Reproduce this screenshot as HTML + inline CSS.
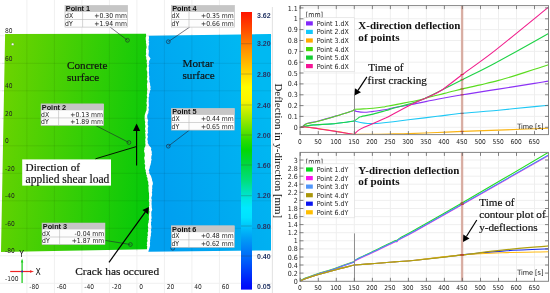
<!DOCTYPE html>
<html><head><meta charset="utf-8"><title>Deflection plots</title>
<style>html,body{margin:0;padding:0;background:#fff;}svg{display:block;filter:blur(0.4px)}</style>
</head><body>
<svg width="550" height="293" viewBox="0 0 550 293">
<g stroke="#f0f0f0" stroke-width="1">
<line x1="26.9" y1="0" x2="26.9" y2="293"/>
<line x1="54.4" y1="0" x2="54.4" y2="293"/>
<line x1="81.9" y1="0" x2="81.9" y2="293"/>
<line x1="109.4" y1="0" x2="109.4" y2="293"/>
<line x1="136.9" y1="0" x2="136.9" y2="293"/>
<line x1="164.4" y1="0" x2="164.4" y2="293"/>
<line x1="191.9" y1="0" x2="191.9" y2="293"/>
<line x1="219.4" y1="0" x2="219.4" y2="293"/>
<line x1="0" y1="35.8" x2="272" y2="35.8"/>
<line x1="0" y1="63.3" x2="272" y2="63.3"/>
<line x1="0" y1="90.8" x2="272" y2="90.8"/>
<line x1="0" y1="118.3" x2="272" y2="118.3"/>
<line x1="0" y1="145.8" x2="272" y2="145.8"/>
<line x1="0" y1="173.3" x2="272" y2="173.3"/>
<line x1="0" y1="200.8" x2="272" y2="200.8"/>
<line x1="0" y1="228.3" x2="272" y2="228.3"/>
<line x1="0" y1="255.8" x2="272" y2="255.8"/>
<line x1="0" y1="283.3" x2="272" y2="283.3"/>
</g>
<line x1="272.4" y1="7" x2="272.4" y2="293" stroke="#dedede" stroke-width="0.9"/>
<defs>
<linearGradient id="gg" gradientUnits="userSpaceOnUse" x1="0" y1="34" x2="173.9" y2="61.1"><stop offset="0" stop-color="#72d400"/><stop offset="1" stop-color="#02c90a"/></linearGradient>
<linearGradient id="bg" gradientUnits="userSpaceOnUse" x1="149" y1="150" x2="271" y2="109.3"><stop offset="0" stop-color="#00a0f0"/><stop offset="1" stop-color="#00b9f2"/></linearGradient>
<linearGradient id="cb" x1="0" y1="0" x2="0" y2="1"><stop offset="0.0000" stop-color="#ff1400"/><stop offset="0.0162" stop-color="#ff2300"/><stop offset="0.0630" stop-color="#ff4b00"/><stop offset="0.1387" stop-color="#ff9400"/><stop offset="0.2432" stop-color="#ffe800"/><stop offset="0.2702" stop-color="#fffc00"/><stop offset="0.3188" stop-color="#faf500"/><stop offset="0.3909" stop-color="#96e800"/><stop offset="0.4629" stop-color="#28dc00"/><stop offset="0.4971" stop-color="#04d704"/><stop offset="0.5349" stop-color="#00d730"/><stop offset="0.6070" stop-color="#00de7d"/><stop offset="0.6790" stop-color="#00e6e8"/><stop offset="0.7061" stop-color="#00e8ff"/><stop offset="0.7403" stop-color="#00e2ff"/><stop offset="0.8123" stop-color="#00a0f5"/><stop offset="0.8952" stop-color="#005ffa"/><stop offset="0.9780" stop-color="#0014fa"/><stop offset="1.0000" stop-color="#0006fa"/></linearGradient>
</defs>
<polygon fill="url(#gg)" points="5.1,34.0 146.0,33.7 146.1,35.0 146.1,36.3 145.7,37.6 145.7,38.9 145.8,40.2 146.1,41.5 145.9,42.8 146.3,44.1 146.3,45.4 146.6,46.7 146.5,48.0 146.0,49.3 146.1,50.6 145.9,51.9 146.2,53.2 146.1,54.5 145.6,55.8 146.3,57.1 146.2,58.4 146.5,59.7 147.0,61.0 146.6,62.3 146.8,63.6 147.0,64.9 147.2,66.2 146.8,67.5 146.6,68.8 146.6,70.1 147.2,71.4 147.3,72.7 147.2,74.0 147.1,75.3 147.4,76.6 147.1,77.9 146.8,79.2 147.3,80.5 147.5,81.8 147.2,83.1 146.9,84.4 147.1,85.7 147.0,87.0 147.2,88.3 147.4,89.6 147.0,90.9 147.1,92.2 147.2,93.5 146.8,94.8 146.8,96.1 147.3,97.4 146.7,98.7 146.7,100.0 146.9,101.3 146.4,102.6 146.6,103.9 147.0,105.2 146.6,106.5 146.6,107.8 146.6,109.1 146.4,110.4 145.8,111.7 145.4,113.0 145.0,114.3 144.7,115.6 144.7,116.9 144.6,118.2 144.8,119.5 144.8,120.8 145.3,122.1 145.0,123.4 145.1,124.7 145.5,126.0 145.3,127.3 145.0,128.6 145.2,129.9 145.6,131.2 145.0,132.5 145.4,133.8 145.4,135.1 145.4,136.4 145.7,137.7 145.2,139.0 145.2,140.3 145.4,141.6 145.2,142.9 145.5,144.2 145.4,145.5 145.1,146.8 144.3,148.1 144.4,149.4 144.0,150.7 144.2,152.0 144.7,153.3 144.7,154.6 144.8,155.9 144.2,157.2 144.2,158.5 144.5,159.8 144.8,161.1 144.8,162.4 144.4,163.7 145.2,165.0 145.2,166.3 144.9,167.6 145.1,168.9 145.8,170.2 145.6,171.5 146.1,172.8 146.0,174.1 146.9,175.4 146.6,176.7 147.6,178.0 147.4,179.3 147.6,180.6 148.4,181.9 148.2,183.2 148.3,184.5 148.8,185.8 148.4,187.1 148.5,188.4 148.6,189.7 148.6,191.0 148.8,192.3 149.1,193.6 149.0,194.9 149.1,196.2 149.1,197.5 149.1,198.8 148.8,200.1 148.9,201.4 149.4,202.7 149.1,204.0 149.4,205.3 149.0,206.6 148.9,207.9 149.2,209.2 149.1,210.5 149.5,211.8 149.2,213.1 149.0,214.4 148.9,215.7 148.8,217.0 148.9,218.3 149.0,219.6 148.6,220.9 148.7,222.2 148.1,223.5 147.9,224.8 147.9,226.1 148.3,227.4 147.8,228.7 148.1,230.0 148.2,231.3 147.6,232.6 147.6,233.9 148.0,235.2 147.3,236.5 147.5,237.8 147.1,239.1 147.5,240.4 147.3,241.7 146.7,243.0 147.2,244.3 146.6,245.6 147.2,246.0 147.0,249.3 1.0,252.0"/>
<polygon fill="url(#bg)" points="271.0,34.0 271.0,250.4 148.3,251.8 150.0,246.0 150.1,245.6 149.9,244.3 149.9,243.0 150.2,241.7 150.0,240.4 150.3,239.1 150.4,237.8 150.6,236.5 151.0,235.2 150.8,233.9 151.2,232.6 151.3,231.3 150.8,230.0 151.3,228.7 151.4,227.4 151.3,226.1 151.0,224.8 151.1,223.5 150.9,222.2 151.6,220.9 151.1,219.6 151.6,218.3 151.6,217.0 151.3,215.7 151.4,214.4 151.3,213.1 151.3,211.8 152.0,210.5 152.2,209.2 151.8,207.9 151.7,206.6 151.7,205.3 151.5,204.0 151.6,202.7 151.6,201.4 151.9,200.1 151.4,198.8 151.3,197.5 151.8,196.2 152.1,194.9 152.1,193.6 151.8,192.3 152.3,191.0 152.0,189.7 152.3,188.4 152.2,187.1 152.2,185.8 152.8,184.5 152.9,183.2 152.7,181.9 152.1,180.6 152.0,179.3 151.6,178.0 151.2,176.7 150.7,175.4 149.7,174.1 149.2,172.8 149.3,171.5 148.7,170.2 149.4,168.9 149.8,167.6 149.9,166.3 150.5,165.0 150.7,163.7 151.1,162.4 151.1,161.1 151.7,159.8 151.2,158.5 151.3,157.2 151.4,155.9 152.0,154.6 151.6,153.3 151.9,152.0 151.4,150.7 151.0,149.4 151.3,148.1 150.2,146.8 149.0,145.5 148.5,144.2 147.7,142.9 147.9,141.6 147.6,140.3 147.3,139.0 147.7,137.7 148.0,136.4 147.3,135.1 147.5,133.8 148.2,132.5 147.7,131.2 147.9,129.9 147.7,128.6 148.0,127.3 148.4,126.0 147.6,124.7 147.8,123.4 147.6,122.1 148.2,120.8 147.7,119.5 147.4,118.2 147.2,116.9 147.3,115.6 147.6,114.3 148.4,113.0 148.3,111.7 148.7,110.4 148.8,109.1 148.3,107.8 148.8,106.5 148.9,105.2 148.8,103.9 148.7,102.6 148.6,101.3 148.8,100.0 148.7,98.7 148.6,97.4 149.3,96.1 148.9,94.8 149.3,93.5 149.7,92.2 149.9,90.9 150.7,89.6 150.2,88.3 150.7,87.0 150.2,85.7 150.1,84.4 150.0,83.1 149.3,81.8 149.6,80.5 149.2,79.2 149.2,77.9 149.4,76.6 149.0,75.3 149.1,74.0 148.8,72.7 149.0,71.4 149.1,70.1 148.9,68.8 149.2,67.5 148.6,66.2 148.8,64.9 149.3,63.6 149.0,62.3 149.1,61.0 149.8,59.7 150.5,58.4 149.5,57.1 148.6,55.8 148.5,54.5 148.7,53.2 148.8,51.9 148.9,50.6 148.4,49.3 148.5,48.0 148.4,46.7 148.7,45.4 149.2,44.1 148.6,42.8 149.2,41.5 148.6,40.2 148.9,38.9 149.0,37.6 148.8,36.3 148.6,35.0 148.7,35.8"/>
<g stroke="#000" stroke-opacity="0.075" stroke-width="1">
<line x1="26.9" y1="34" x2="26.9" y2="251"/>
<line x1="54.4" y1="34" x2="54.4" y2="251"/>
<line x1="81.9" y1="34" x2="81.9" y2="251"/>
<line x1="109.4" y1="34" x2="109.4" y2="251"/>
<line x1="136.9" y1="34" x2="136.9" y2="251"/>
<line x1="164.4" y1="34" x2="164.4" y2="251"/>
<line x1="191.9" y1="34" x2="191.9" y2="251"/>
<line x1="219.4" y1="34" x2="219.4" y2="251"/>
<line x1="2" y1="63.3" x2="271" y2="63.3"/>
<line x1="2" y1="90.8" x2="271" y2="90.8"/>
<line x1="2" y1="118.3" x2="271" y2="118.3"/>
<line x1="2" y1="145.8" x2="271" y2="145.8"/>
<line x1="2" y1="173.3" x2="271" y2="173.3"/>
<line x1="2" y1="200.8" x2="271" y2="200.8"/>
<line x1="2" y1="228.3" x2="271" y2="228.3"/>
</g>
<circle cx="12.7" cy="44.2" r="1.3" fill="#fff" stroke="#5a9a30" stroke-width="0.5"/>
<g font-family="DejaVu Sans Condensed, Liberation Sans, sans-serif" font-size="6.6" fill="#222">
<text x="5" y="33.0">80</text>
<text x="5" y="60.5">60</text>
<text x="5" y="88.0">40</text>
<text x="5" y="115.5">20</text>
<text x="5" y="143.0">0</text>
<text x="5" y="170.5">-20</text>
<text x="5" y="198.0">-40</text>
<text x="5" y="225.5">-60</text>
<text x="5" y="253.0">-80</text>
<text x="5" y="280.5">-100</text>
<text x="29.3" y="289.2">-80</text>
<text x="56.8" y="289.2">-60</text>
<text x="84.3" y="289.2">-40</text>
<text x="111.8" y="289.2">-20</text>
<text x="139.3" y="289.2">0</text>
<text x="166.8" y="289.2">20</text>
<text x="194.3" y="289.2">40</text>
<text x="221.8" y="289.2">60</text>
</g>
<line x1="22.1" y1="260.5" x2="22.1" y2="283" stroke="#22cc22" stroke-width="1.3"/>
<polygon points="22.1,258.5 20.9,262.5 23.3,262.5" fill="#22cc22"/>
<line x1="10.2" y1="271.5" x2="31" y2="271.5" stroke="#ee2222" stroke-width="1.2"/>
<polygon points="34,271.5 30,270.3 30,272.7" fill="#ee2222"/>
<circle cx="22.1" cy="271.5" r="0.9" fill="#2222cc"/>
<text x="19.2" y="256.8" font-family="DejaVu Sans Condensed, Liberation Sans, sans-serif" font-size="8.5" fill="#111">Y</text>
<text x="35.5" y="274.6" font-family="DejaVu Sans Condensed, Liberation Sans, sans-serif" font-size="8.5" fill="#111">X</text>
<rect x="241" y="12" width="11" height="277.6" fill="url(#cb)"/>
<g font-family="Liberation Sans, sans-serif" font-size="7" font-weight="bold" fill="#263766">
<text x="257" y="17.9">3.62</text>
<text x="257" y="46.2">3.20</text>
<text x="257" y="76.5">2.80</text>
<text x="257" y="107.5">2.40</text>
<text x="257" y="137.5">2.00</text>
<text x="257" y="167.5">1.60</text>
<text x="257" y="198.2">1.20</text>
<text x="257" y="228.5">0.80</text>
<text x="257" y="258.5">0.40</text>
<text x="257" y="289.0">0.05</text>
</g>
<g stroke="#333" stroke-opacity="0.45" stroke-width="0.6">
<line x1="241" y1="43.7" x2="251.8" y2="43.7"/>
<line x1="241" y1="74.0" x2="251.8" y2="74.0"/>
<line x1="241" y1="105.0" x2="251.8" y2="105.0"/>
<line x1="241" y1="135.0" x2="251.8" y2="135.0"/>
<line x1="241" y1="165.0" x2="251.8" y2="165.0"/>
<line x1="241" y1="195.7" x2="251.8" y2="195.7"/>
<line x1="241" y1="226.0" x2="251.8" y2="226.0"/>
<line x1="241" y1="256.0" x2="251.8" y2="256.0"/>
</g>
<text transform="translate(274.6,83.5) rotate(90)" font-family="Liberation Serif, serif" font-size="10.9" fill="#111">Deflection in y-direction [mm]</text>
<line x1="110" y1="27" x2="127.5" y2="40.3" stroke="#223" stroke-width="0.6"/>
<circle cx="127.5" cy="40.3" r="1.9" fill="none" stroke="#223" stroke-width="0.6"/>
<line x1="189.8" y1="27" x2="168.3" y2="41.7" stroke="#223" stroke-width="0.6"/>
<circle cx="168.3" cy="41.7" r="1.9" fill="none" stroke="#223" stroke-width="0.6"/>
<line x1="96.2" y1="125.8" x2="128.9" y2="142.5" stroke="#223" stroke-width="0.6"/>
<circle cx="128.9" cy="142.5" r="1.9" fill="none" stroke="#223" stroke-width="0.6"/>
<line x1="189.8" y1="129.8" x2="168.3" y2="146.2" stroke="#223" stroke-width="0.6"/>
<circle cx="168.3" cy="146.2" r="1.9" fill="none" stroke="#223" stroke-width="0.6"/>
<line x1="105" y1="240.4" x2="130.4" y2="244.5" stroke="#223" stroke-width="0.6"/>
<circle cx="130.4" cy="244.5" r="1.9" fill="none" stroke="#223" stroke-width="0.6"/>
<line x1="172.8" y1="247" x2="172.8" y2="248.2" stroke="#223" stroke-width="0.6"/>
<circle cx="172.8" cy="248.2" r="1.9" fill="none" stroke="#223" stroke-width="0.6"/>
<g font-family="DejaVu Sans Condensed, Liberation Sans, sans-serif">
<rect x="65" y="5.5" width="62.6" height="21.6" fill="#fdfdfd" stroke="#b8b8b8" stroke-width="0.6"/>
<rect x="65" y="5.5" width="62.6" height="6.4" fill="#c6c6c6"/>
<line x1="65" y1="19.5" x2="127.6" y2="19.5" stroke="#b8b8b8" stroke-width="0.6"/>
<line x1="82.6" y1="11.9" x2="82.6" y2="27.1" stroke="#b8b8b8" stroke-width="0.6"/>
<text x="65.8" y="11.3" font-size="7.3" font-weight="bold" font-family="Liberation Sans, sans-serif" fill="#111">Point 1</text>
<text x="65.1" y="18.1" font-size="6.8" fill="#222">dX</text>
<text x="65.1" y="25.7" font-size="6.8" fill="#222">dY</text>
<text x="126.89999999999999" y="18.1" font-size="6.8" fill="#222" text-anchor="end">+0.30 mm</text>
<text x="126.89999999999999" y="25.7" font-size="6.8" fill="#222" text-anchor="end">+1.94 mm</text>
</g>
<g font-family="DejaVu Sans Condensed, Liberation Sans, sans-serif">
<rect x="171.4" y="5.5" width="63" height="21.6" fill="#fdfdfd" stroke="#b8b8b8" stroke-width="0.6"/>
<rect x="171.4" y="5.5" width="63" height="6.4" fill="#c6c6c6"/>
<line x1="171.4" y1="19.5" x2="234.4" y2="19.5" stroke="#b8b8b8" stroke-width="0.6"/>
<line x1="189.0" y1="11.9" x2="189.0" y2="27.1" stroke="#b8b8b8" stroke-width="0.6"/>
<text x="172.20000000000002" y="11.3" font-size="7.3" font-weight="bold" font-family="Liberation Sans, sans-serif" fill="#111">Point 4</text>
<text x="171.5" y="18.1" font-size="6.8" fill="#222">dX</text>
<text x="171.5" y="25.7" font-size="6.8" fill="#222">dY</text>
<text x="233.70000000000002" y="18.1" font-size="6.8" fill="#222" text-anchor="end">+0.35 mm</text>
<text x="233.70000000000002" y="25.7" font-size="6.8" fill="#222" text-anchor="end">+0.66 mm</text>
</g>
<g font-family="DejaVu Sans Condensed, Liberation Sans, sans-serif">
<rect x="41" y="103.9" width="62.6" height="21.6" fill="#fdfdfd" stroke="#b8b8b8" stroke-width="0.6"/>
<rect x="41" y="103.9" width="62.6" height="6.4" fill="#c6c6c6"/>
<line x1="41" y1="117.9" x2="103.6" y2="117.9" stroke="#b8b8b8" stroke-width="0.6"/>
<line x1="58.6" y1="110.30000000000001" x2="58.6" y2="125.5" stroke="#b8b8b8" stroke-width="0.6"/>
<text x="41.8" y="109.7" font-size="7.3" font-weight="bold" font-family="Liberation Sans, sans-serif" fill="#111">Point 2</text>
<text x="41.1" y="116.5" font-size="6.8" fill="#222">dX</text>
<text x="41.1" y="124.10000000000001" font-size="6.8" fill="#222">dY</text>
<text x="102.89999999999999" y="116.5" font-size="6.8" fill="#222" text-anchor="end">+0.13 mm</text>
<text x="102.89999999999999" y="124.10000000000001" font-size="6.8" fill="#222" text-anchor="end">+1.89 mm</text>
</g>
<g font-family="DejaVu Sans Condensed, Liberation Sans, sans-serif">
<rect x="171.4" y="108.5" width="63" height="21.6" fill="#fdfdfd" stroke="#b8b8b8" stroke-width="0.6"/>
<rect x="171.4" y="108.5" width="63" height="6.4" fill="#c6c6c6"/>
<line x1="171.4" y1="122.5" x2="234.4" y2="122.5" stroke="#b8b8b8" stroke-width="0.6"/>
<line x1="189.0" y1="114.9" x2="189.0" y2="130.1" stroke="#b8b8b8" stroke-width="0.6"/>
<text x="172.20000000000002" y="114.3" font-size="7.3" font-weight="bold" font-family="Liberation Sans, sans-serif" fill="#111">Point 5</text>
<text x="171.5" y="121.1" font-size="6.8" fill="#222">dX</text>
<text x="171.5" y="128.7" font-size="6.8" fill="#222">dY</text>
<text x="233.70000000000002" y="121.1" font-size="6.8" fill="#222" text-anchor="end">+0.44 mm</text>
<text x="233.70000000000002" y="128.7" font-size="6.8" fill="#222" text-anchor="end">+0.65 mm</text>
</g>
<g font-family="DejaVu Sans Condensed, Liberation Sans, sans-serif">
<rect x="42" y="223" width="63" height="21.6" fill="#fdfdfd" stroke="#b8b8b8" stroke-width="0.6"/>
<rect x="42" y="223" width="63" height="6.4" fill="#c6c6c6"/>
<line x1="42" y1="237" x2="105" y2="237" stroke="#b8b8b8" stroke-width="0.6"/>
<line x1="59.6" y1="229.4" x2="59.6" y2="244.6" stroke="#b8b8b8" stroke-width="0.6"/>
<text x="42.8" y="228.8" font-size="7.3" font-weight="bold" font-family="Liberation Sans, sans-serif" fill="#111">Point 3</text>
<text x="42.1" y="235.6" font-size="6.8" fill="#222">dX</text>
<text x="42.1" y="243.2" font-size="6.8" fill="#222">dY</text>
<text x="104.3" y="235.6" font-size="6.8" fill="#222" text-anchor="end">-0.04 mm</text>
<text x="104.3" y="243.2" font-size="6.8" fill="#222" text-anchor="end">+1.87 mm</text>
</g>
<g font-family="DejaVu Sans Condensed, Liberation Sans, sans-serif">
<rect x="171.3" y="225.8" width="63" height="21.6" fill="#fdfdfd" stroke="#b8b8b8" stroke-width="0.6"/>
<rect x="171.3" y="225.8" width="63" height="6.4" fill="#c6c6c6"/>
<line x1="171.3" y1="239.8" x2="234.3" y2="239.8" stroke="#b8b8b8" stroke-width="0.6"/>
<line x1="188.9" y1="232.20000000000002" x2="188.9" y2="247.4" stroke="#b8b8b8" stroke-width="0.6"/>
<text x="172.10000000000002" y="231.60000000000002" font-size="7.3" font-weight="bold" font-family="Liberation Sans, sans-serif" fill="#111">Point 6</text>
<text x="171.4" y="238.4" font-size="6.8" fill="#222">dX</text>
<text x="171.4" y="246.0" font-size="6.8" fill="#222">dY</text>
<text x="233.60000000000002" y="238.4" font-size="6.8" fill="#222" text-anchor="end">+0.48 mm</text>
<text x="233.60000000000002" y="246.0" font-size="6.8" fill="#222" text-anchor="end">+0.62 mm</text>
</g>
<g font-family="Liberation Serif, serif" font-size="11.2" fill="#111" stroke="#111" stroke-width="0.18">
<text x="67" y="68.8">Concrete</text>
<text x="67" y="80.7">surface</text>
<text x="182.5" y="66.6">Mortar</text>
<text x="182.5" y="78.9">surface</text>
</g>
<rect x="22.2" y="159.4" width="88.8" height="26.2" fill="#fff"/>
<g font-family="Liberation Serif, serif" font-size="11.2" fill="#111" stroke="#111" stroke-width="0.18">
<text x="25.6" y="171">Direction of</text>
<text x="25.6" y="182.6" font-size="11.5">applied shear load</text>
<text x="75.3" y="274.7" font-size="11.35">Crack has occured</text>
</g>
<line x1="136.6" y1="130" x2="136.6" y2="165.6" stroke="#000" stroke-width="1.1"/>
<polygon points="136.6,123.6 133,131 140.2,131" fill="#000"/>
<line x1="95.5" y1="158.8" x2="136.6" y2="146.5" stroke="#000" stroke-width="0.9"/>
<line x1="109.0" y1="262.3" x2="145.2" y2="212.1" stroke="#000" stroke-width="1.2"/>
<polygon points="148.9,207.0 148.1,214.2 142.4,210.1" fill="#000"/>
<rect x="300.0" y="5.6" width="248.5" height="129.0" fill="#fff"/>
<g stroke="#ededed" stroke-width="0.9">
<line x1="318.3" y1="5.6" x2="318.3" y2="134.6"/>
<line x1="336.3" y1="5.6" x2="336.3" y2="134.6"/>
<line x1="354.3" y1="5.6" x2="354.3" y2="134.6"/>
<line x1="372.4" y1="5.6" x2="372.4" y2="134.6"/>
<line x1="390.4" y1="5.6" x2="390.4" y2="134.6"/>
<line x1="408.4" y1="5.6" x2="408.4" y2="134.6"/>
<line x1="426.4" y1="5.6" x2="426.4" y2="134.6"/>
<line x1="444.4" y1="5.6" x2="444.4" y2="134.6"/>
<line x1="462.4" y1="5.6" x2="462.4" y2="134.6"/>
<line x1="480.5" y1="5.6" x2="480.5" y2="134.6"/>
<line x1="498.5" y1="5.6" x2="498.5" y2="134.6"/>
<line x1="516.5" y1="5.6" x2="516.5" y2="134.6"/>
<line x1="534.5" y1="5.6" x2="534.5" y2="134.6"/>
<line x1="300.0" y1="127.3" x2="548.5" y2="127.3"/>
<line x1="300.0" y1="116.4" x2="548.5" y2="116.4"/>
<line x1="300.0" y1="105.6" x2="548.5" y2="105.6"/>
<line x1="300.0" y1="94.8" x2="548.5" y2="94.8"/>
<line x1="300.0" y1="83.9" x2="548.5" y2="83.9"/>
<line x1="300.0" y1="73.0" x2="548.5" y2="73.0"/>
<line x1="300.0" y1="62.2" x2="548.5" y2="62.2"/>
<line x1="300.0" y1="51.4" x2="548.5" y2="51.4"/>
<line x1="300.0" y1="40.5" x2="548.5" y2="40.5"/>
<line x1="300.0" y1="29.6" x2="548.5" y2="29.6"/>
<line x1="300.0" y1="18.8" x2="548.5" y2="18.8"/>
<line x1="300.0" y1="7.9" x2="548.5" y2="7.9"/>
</g>
<clipPath id="cp5"><rect x="300.0" y="5.1" width="250.0" height="130.0"/></clipPath>
<g fill="none" stroke-width="1.1" stroke-linejoin="round" clip-path="url(#cp5)">
<line x1="462.1" y1="5.6" x2="462.1" y2="134.6" stroke="#dfb9b0" stroke-width="2.4" clip-path="none"/>
<line x1="462.1" y1="5.6" x2="462.1" y2="134.6" stroke="#d2a398" stroke-width="1.0" clip-path="none"/>
<path stroke="#8c32f5" d="M300.3,127.3C300.8,127.1 302.1,126.6 303.2,126.0C304.2,125.4 304.4,124.3 306.8,123.5C309.2,122.7 313.6,122.2 318.3,121.0C323.0,119.8 330.6,117.6 336.3,115.9C342.1,114.2 351.5,111.1 354.3,110.2C354.7,110.3 355.0,111.0 356.5,111.4C358.1,111.7 361.4,112.3 364.1,112.3C366.7,112.3 369.6,111.8 373.1,111.4C376.6,110.9 382.8,110.1 386.1,109.5C389.3,108.9 389.2,108.6 393.3,107.8C397.3,107.0 404.2,105.9 411.3,104.5C418.3,103.2 429.0,100.9 437.2,99.3C445.4,97.7 452.6,96.4 462.4,94.8C472.2,93.1 486.9,90.9 498.5,89.1C510.0,87.3 526.5,84.6 534.5,83.4C542.5,82.1 546.3,81.4 548.5,81.1"/>
<path stroke="#1ec8f5" d="M300.3,127.3C302.4,126.9 308.3,125.5 313.3,125.0C318.2,124.5 326.0,124.5 331.3,124.0C336.5,123.6 342.4,122.8 346.1,122.3C349.7,121.8 353.0,121.2 354.3,121.0C355.3,121.3 358.3,122.1 360.5,122.5C362.6,122.9 365.1,123.3 367.7,123.5C370.3,123.7 373.7,123.7 376.7,123.5C379.6,123.3 383.4,122.8 386.1,122.5C388.7,122.2 389.7,122.1 393.3,121.7C396.8,121.2 401.4,120.6 408.4,119.7C415.4,118.9 428.6,117.4 437.2,116.3C445.9,115.3 452.6,114.3 462.4,113.3C472.2,112.3 486.9,111.2 498.5,110.2C510.0,109.1 526.5,107.4 534.5,106.6C542.5,105.8 546.3,105.4 548.5,105.2"/>
<path stroke="#fab414" d="M300.3,127.3C301.2,127.2 302.8,126.7 305.7,126.9C308.6,127.1 313.4,127.9 318.3,128.6C323.2,129.3 331.3,130.6 336.3,131.4C341.3,132.2 346.8,133.2 349.7,133.7C352.5,134.2 353.6,134.2 354.3,134.4C357.2,134.3 366.1,134.3 372.4,134.2C378.6,134.2 387.5,134.0 393.3,133.9C399.0,133.8 401.4,133.8 408.4,133.6C415.4,133.4 428.6,132.9 437.2,132.5C445.9,132.2 452.6,131.8 462.4,131.4C472.2,131.0 484.7,130.6 498.5,130.1C512.2,129.6 540.5,128.6 548.5,128.3"/>
<path stroke="#5adc1e" d="M300.3,127.3C300.8,127.1 302.1,126.8 303.2,126.2C304.2,125.6 304.4,124.5 306.8,123.7C309.2,122.9 313.6,122.5 318.3,121.2C323.0,120.0 330.6,117.8 336.3,116.0C342.1,114.3 351.5,111.2 354.3,110.3C354.5,110.1 352.4,109.6 355.4,109.3C358.4,109.0 368.4,108.7 373.1,108.3C377.8,107.9 381.7,107.2 385.0,106.7C388.2,106.2 387.8,106.1 393.3,105.1C398.7,104.0 413.6,101.2 419.2,100.0C424.8,98.7 424.2,98.5 428.2,97.5C432.2,96.4 438.9,94.8 444.4,93.4C449.9,92.1 456.7,90.3 462.4,88.9C468.2,87.5 474.7,86.2 480.5,84.9C486.2,83.5 492.7,82.0 498.5,80.4C504.2,78.9 510.7,76.9 516.5,75.1C522.2,73.3 529.4,70.9 534.5,69.3C539.6,67.6 546.3,65.4 548.5,64.7"/>
<path stroke="#1ed246" d="M300.3,127.3C302.4,126.9 308.3,125.5 313.3,124.9C318.2,124.4 326.0,124.4 331.3,123.9C336.5,123.5 342.4,122.7 346.1,122.2C349.7,121.7 353.0,121.1 354.3,120.9C354.9,120.5 356.6,119.3 357.6,118.6C358.6,118.0 358.0,117.5 360.5,116.8C362.9,116.0 369.0,115.1 373.1,114.1C377.2,113.1 382.8,111.4 386.1,110.5C389.3,109.6 388.0,109.9 393.3,108.3C398.6,106.8 411.5,103.6 419.2,100.7C426.9,97.8 434.6,93.6 441.5,90.2C448.5,86.8 453.9,84.0 462.4,79.7C471.0,75.3 481.1,70.6 494.9,63.2C508.6,55.8 540.0,38.2 548.5,33.4"/>
<path stroke="#f01e8c" d="M300.3,127.3C301.2,127.2 302.8,126.7 305.7,127.0C308.6,127.2 313.4,128.0 318.3,128.7C323.2,129.4 331.3,130.7 336.3,131.5C341.3,132.3 346.8,133.3 349.7,133.8C352.5,134.3 353.6,134.4 354.3,134.5C354.6,134.2 355.1,133.3 355.8,132.6C356.5,131.9 357.3,131.0 358.7,130.1C360.0,129.3 361.8,128.4 364.1,127.3C366.4,126.2 369.6,125.0 373.1,123.5C376.6,122.0 382.8,119.3 386.1,117.8C389.3,116.2 389.2,116.2 393.3,114.1C397.3,111.9 405.7,107.3 411.3,104.5C416.9,101.8 423.4,99.2 428.2,96.9C433.0,94.6 436.1,93.8 441.5,90.2C447.0,86.6 453.9,80.8 462.4,74.5C471.0,68.1 481.1,61.4 494.9,50.6C508.6,39.8 540.0,14.0 548.5,7.1"/>
<line x1="460.6" y1="94.8" x2="463.6" y2="94.8" stroke="#b83a32" stroke-width="0.9"/>
<line x1="460.6" y1="113.3" x2="463.6" y2="113.3" stroke="#b83a32" stroke-width="0.9"/>
<line x1="460.6" y1="131.4" x2="463.6" y2="131.4" stroke="#b83a32" stroke-width="0.9"/>
<line x1="460.6" y1="88.9" x2="463.6" y2="88.9" stroke="#b83a32" stroke-width="0.9"/>
<line x1="460.6" y1="79.7" x2="463.6" y2="79.7" stroke="#b83a32" stroke-width="0.9"/>
<line x1="460.6" y1="74.5" x2="463.6" y2="74.5" stroke="#b83a32" stroke-width="0.9"/>
</g>
<line x1="354.5" y1="95" x2="354.5" y2="134.6" stroke="#858585" stroke-width="0.9"/>
<rect x="300.0" y="5.6" width="248.5" height="129.0" fill="none" stroke="#858585" stroke-width="1"/>
<g stroke="#666" stroke-width="0.8">
<line x1="300.3" y1="5.6" x2="300.3" y2="9.1"/>
<line x1="300.3" y1="134.6" x2="300.3" y2="131.1"/>
<line x1="318.3" y1="5.6" x2="318.3" y2="9.1"/>
<line x1="318.3" y1="134.6" x2="318.3" y2="131.1"/>
<line x1="336.3" y1="5.6" x2="336.3" y2="9.1"/>
<line x1="336.3" y1="134.6" x2="336.3" y2="131.1"/>
<line x1="354.3" y1="5.6" x2="354.3" y2="9.1"/>
<line x1="354.3" y1="134.6" x2="354.3" y2="131.1"/>
<line x1="372.4" y1="5.6" x2="372.4" y2="9.1"/>
<line x1="372.4" y1="134.6" x2="372.4" y2="131.1"/>
<line x1="390.4" y1="5.6" x2="390.4" y2="9.1"/>
<line x1="390.4" y1="134.6" x2="390.4" y2="131.1"/>
<line x1="408.4" y1="5.6" x2="408.4" y2="9.1"/>
<line x1="408.4" y1="134.6" x2="408.4" y2="131.1"/>
<line x1="426.4" y1="5.6" x2="426.4" y2="9.1"/>
<line x1="426.4" y1="134.6" x2="426.4" y2="131.1"/>
<line x1="444.4" y1="5.6" x2="444.4" y2="9.1"/>
<line x1="444.4" y1="134.6" x2="444.4" y2="131.1"/>
<line x1="462.4" y1="5.6" x2="462.4" y2="9.1"/>
<line x1="462.4" y1="134.6" x2="462.4" y2="131.1"/>
<line x1="480.5" y1="5.6" x2="480.5" y2="9.1"/>
<line x1="480.5" y1="134.6" x2="480.5" y2="131.1"/>
<line x1="498.5" y1="5.6" x2="498.5" y2="9.1"/>
<line x1="498.5" y1="134.6" x2="498.5" y2="131.1"/>
<line x1="516.5" y1="5.6" x2="516.5" y2="9.1"/>
<line x1="516.5" y1="134.6" x2="516.5" y2="131.1"/>
<line x1="534.5" y1="5.6" x2="534.5" y2="9.1"/>
<line x1="534.5" y1="134.6" x2="534.5" y2="131.1"/>
<line x1="299.5" y1="127.3" x2="303.5" y2="127.3"/>
<line x1="548.5" y1="127.3" x2="545.0" y2="127.3"/>
<line x1="299.5" y1="116.4" x2="303.5" y2="116.4"/>
<line x1="548.5" y1="116.4" x2="545.0" y2="116.4"/>
<line x1="299.5" y1="105.6" x2="303.5" y2="105.6"/>
<line x1="548.5" y1="105.6" x2="545.0" y2="105.6"/>
<line x1="299.5" y1="94.8" x2="303.5" y2="94.8"/>
<line x1="548.5" y1="94.8" x2="545.0" y2="94.8"/>
<line x1="299.5" y1="83.9" x2="303.5" y2="83.9"/>
<line x1="548.5" y1="83.9" x2="545.0" y2="83.9"/>
<line x1="299.5" y1="73.0" x2="303.5" y2="73.0"/>
<line x1="548.5" y1="73.0" x2="545.0" y2="73.0"/>
<line x1="299.5" y1="62.2" x2="303.5" y2="62.2"/>
<line x1="548.5" y1="62.2" x2="545.0" y2="62.2"/>
<line x1="299.5" y1="51.4" x2="303.5" y2="51.4"/>
<line x1="548.5" y1="51.4" x2="545.0" y2="51.4"/>
<line x1="299.5" y1="40.5" x2="303.5" y2="40.5"/>
<line x1="548.5" y1="40.5" x2="545.0" y2="40.5"/>
<line x1="299.5" y1="29.6" x2="303.5" y2="29.6"/>
<line x1="548.5" y1="29.6" x2="545.0" y2="29.6"/>
<line x1="299.5" y1="18.8" x2="303.5" y2="18.8"/>
<line x1="548.5" y1="18.8" x2="545.0" y2="18.8"/>
<line x1="299.5" y1="7.9" x2="303.5" y2="7.9"/>
<line x1="548.5" y1="7.9" x2="545.0" y2="7.9"/>
</g>
<g font-family="DejaVu Sans Condensed, Liberation Sans, sans-serif" font-size="7" fill="#222">
<text x="299.9" y="144" text-anchor="middle" font-size="6.6">0</text>
<text x="317.9" y="144" text-anchor="middle" font-size="6.6">50</text>
<text x="335.9" y="144" text-anchor="middle" font-size="6.6">100</text>
<text x="353.9" y="144" text-anchor="middle" font-size="6.6">150</text>
<text x="372.0" y="144" text-anchor="middle" font-size="6.6">200</text>
<text x="390.0" y="144" text-anchor="middle" font-size="6.6">250</text>
<text x="408.0" y="144" text-anchor="middle" font-size="6.6">300</text>
<text x="426.0" y="144" text-anchor="middle" font-size="6.6">350</text>
<text x="444.0" y="144" text-anchor="middle" font-size="6.6">400</text>
<text x="462.0" y="144" text-anchor="middle" font-size="6.6">450</text>
<text x="480.1" y="144" text-anchor="middle" font-size="6.6">500</text>
<text x="498.1" y="144" text-anchor="middle" font-size="6.6">550</text>
<text x="516.1" y="144" text-anchor="middle" font-size="6.6">600</text>
<text x="534.1" y="144" text-anchor="middle" font-size="6.6">650</text>
<text x="297.7" y="129.8" text-anchor="end">0</text>
<text x="297.7" y="119.0" text-anchor="end">0.1</text>
<text x="297.7" y="108.1" text-anchor="end">0.2</text>
<text x="297.7" y="97.3" text-anchor="end">0.3</text>
<text x="297.7" y="86.4" text-anchor="end">0.4</text>
<text x="297.7" y="75.6" text-anchor="end">0.5</text>
<text x="297.7" y="64.8" text-anchor="end">0.6</text>
<text x="297.7" y="53.9" text-anchor="end">0.7</text>
<text x="297.7" y="43.0" text-anchor="end">0.8</text>
<text x="297.7" y="32.2" text-anchor="end">0.9</text>
<text x="297.7" y="21.3" text-anchor="end">1</text>
<text x="297.7" y="10.5" text-anchor="end">1.1</text>
</g>
<text x="305.8" y="17.2" font-family="DejaVu Sans Condensed, Liberation Sans, sans-serif" font-size="7" fill="#222">[mm]</text>
<rect x="304" y="17.7" width="50.5" height="54" fill="#fff" fill-opacity="0.92" stroke="#ddd" stroke-width="0.6"/>
<g font-family="DejaVu Sans Condensed, Liberation Sans, sans-serif" font-size="7" fill="#222">
<rect x="306" y="21.3" width="6.8" height="4.2" fill="#8228fa"/>
<text x="316.8" y="25.9">Point 1.dX</text>
<rect x="306" y="29.8" width="6.8" height="4.2" fill="#14c8fa"/>
<text x="316.8" y="34.4">Point 2.dX</text>
<rect x="306" y="38.4" width="6.8" height="4.2" fill="#ffaa00"/>
<text x="316.8" y="43.0">Point 3.dX</text>
<rect x="306" y="47.0" width="6.8" height="4.2" fill="#46d70a"/>
<text x="316.8" y="51.6">Point 4.dX</text>
<rect x="306" y="55.5" width="6.8" height="4.2" fill="#14cd32"/>
<text x="316.8" y="60.1">Point 5.dX</text>
<rect x="306" y="64.0" width="6.8" height="4.2" fill="#f51496"/>
<text x="316.8" y="68.7">Point 6.dX</text>
</g>
<text x="517.2" y="128.6" font-family="DejaVu Sans Condensed, Liberation Sans, sans-serif" font-size="7.2" fill="#222">Time [s]</text>
<g font-family="Liberation Serif, serif" font-size="11" font-weight="bold" fill="#111">
<text x="358.3" y="29.4">X-direction deflection</text>
<text x="358.3" y="40.9" font-size="11.2">of points</text>
</g>
<rect x="300.0" y="152.4" width="248.5" height="128.9" fill="#fff"/>
<g stroke="#ededed" stroke-width="0.9">
<line x1="318.3" y1="152.4" x2="318.3" y2="281.3"/>
<line x1="336.3" y1="152.4" x2="336.3" y2="281.3"/>
<line x1="354.3" y1="152.4" x2="354.3" y2="281.3"/>
<line x1="372.4" y1="152.4" x2="372.4" y2="281.3"/>
<line x1="390.4" y1="152.4" x2="390.4" y2="281.3"/>
<line x1="408.4" y1="152.4" x2="408.4" y2="281.3"/>
<line x1="426.4" y1="152.4" x2="426.4" y2="281.3"/>
<line x1="444.4" y1="152.4" x2="444.4" y2="281.3"/>
<line x1="462.4" y1="152.4" x2="462.4" y2="281.3"/>
<line x1="480.5" y1="152.4" x2="480.5" y2="281.3"/>
<line x1="498.5" y1="152.4" x2="498.5" y2="281.3"/>
<line x1="516.5" y1="152.4" x2="516.5" y2="281.3"/>
<line x1="534.5" y1="152.4" x2="534.5" y2="281.3"/>
<line x1="300.0" y1="273.1" x2="548.5" y2="273.1"/>
<line x1="300.0" y1="265.0" x2="548.5" y2="265.0"/>
<line x1="300.0" y1="257.0" x2="548.5" y2="257.0"/>
<line x1="300.0" y1="248.9" x2="548.5" y2="248.9"/>
<line x1="300.0" y1="240.8" x2="548.5" y2="240.8"/>
<line x1="300.0" y1="232.7" x2="548.5" y2="232.7"/>
<line x1="300.0" y1="224.6" x2="548.5" y2="224.6"/>
<line x1="300.0" y1="216.6" x2="548.5" y2="216.6"/>
<line x1="300.0" y1="208.5" x2="548.5" y2="208.5"/>
<line x1="300.0" y1="200.4" x2="548.5" y2="200.4"/>
<line x1="300.0" y1="192.3" x2="548.5" y2="192.3"/>
<line x1="300.0" y1="184.2" x2="548.5" y2="184.2"/>
<line x1="300.0" y1="176.2" x2="548.5" y2="176.2"/>
<line x1="300.0" y1="168.1" x2="548.5" y2="168.1"/>
<line x1="300.0" y1="160.0" x2="548.5" y2="160.0"/>
</g>
<clipPath id="cp152"><rect x="300.0" y="151.9" width="250.0" height="129.9"/></clipPath>
<g fill="none" stroke-width="1.1" stroke-linejoin="round" clip-path="url(#cp152)">
<line x1="462.1" y1="152.4" x2="462.1" y2="281.3" stroke="#dfb9b0" stroke-width="2.4" clip-path="none"/>
<line x1="462.1" y1="152.4" x2="462.1" y2="281.3" stroke="#d2a398" stroke-width="1.0" clip-path="none"/>
<path stroke="#22dd22" d="M300.3,280.7C301.1,280.3 302.6,279.1 305.3,278.0C308.1,276.9 312.7,275.3 317.6,273.7C322.5,272.1 330.1,269.9 336.0,267.9C341.8,265.9 351.4,262.4 354.3,261.4C354.7,261.1 353.2,261.1 356.5,259.4C359.8,257.7 368.8,253.6 374.9,250.6C380.9,247.7 390.8,242.6 394.3,241.0C397.9,239.4 396.1,241.2 396.9,240.8C397.7,240.4 396.4,240.2 399.4,238.4C402.4,236.6 405.5,235.2 415.6,229.5C425.7,223.8 441.2,215.2 462.4,202.8C483.7,190.5 534.8,160.4 548.5,152.3"/>
<path stroke="#ff38dc" d="M300.3,281.2C301.1,280.8 302.6,279.6 305.3,278.5C308.1,277.4 312.7,275.8 317.6,274.2C322.5,272.6 330.1,270.4 336.0,268.4C341.8,266.4 351.4,262.9 354.3,261.9C354.7,261.6 353.2,261.7 356.5,260.0C359.8,258.3 368.8,254.4 374.9,251.5C380.9,248.7 390.8,243.8 394.3,242.2C397.9,240.7 396.1,242.2 396.9,241.8C397.7,241.4 396.4,241.3 399.4,239.6C402.4,237.8 405.5,236.5 415.6,230.9C425.7,225.3 441.2,216.5 462.4,204.4C483.7,192.4 534.8,163.4 548.5,155.6"/>
<path stroke="#4a8cf5" d="M300.3,281.2C301.1,280.8 302.6,279.6 305.3,278.5C308.1,277.4 312.7,275.8 317.6,274.2C322.5,272.6 330.1,270.4 336.0,268.4C341.8,266.4 351.4,262.9 354.3,261.9C354.7,261.5 353.2,261.2 356.5,259.5C359.8,257.8 368.8,253.9 374.9,251.0C380.9,248.2 390.8,243.3 394.3,241.7C397.9,240.2 396.1,241.7 396.9,241.3C397.7,240.9 396.4,240.8 399.4,239.1C402.4,237.4 405.5,236.0 415.6,230.4C425.7,224.8 441.2,216.0 462.4,204.0C483.7,191.9 534.8,162.9 548.5,155.1"/>
<path stroke="#1a2af0" d="M300.3,281.2C301.1,280.8 302.6,279.8 305.3,278.8C308.1,277.8 312.7,276.3 317.6,274.8C322.5,273.4 330.1,271.3 336.0,269.7C341.8,268.1 351.4,265.8 354.3,265.0C357.6,264.8 368.5,264.0 374.9,263.5C381.3,263.0 387.8,262.4 394.3,261.9C400.9,261.4 404.7,261.3 415.6,260.2C426.5,259.1 448.6,256.4 462.4,254.9C476.3,253.5 488.3,252.1 502.1,251.1C515.8,250.1 541.1,249.2 548.5,248.9"/>
<path stroke="#ffbb11" d="M300.3,281.2C301.1,280.8 302.6,279.8 305.3,278.8C308.1,277.8 312.7,276.3 317.6,274.8C322.5,273.4 330.1,271.3 336.0,269.7C341.8,268.1 351.4,265.8 354.3,265.0C357.6,264.8 368.5,264.0 374.9,263.5C381.3,263.0 387.8,262.4 394.3,261.9C400.9,261.4 404.7,261.3 415.6,260.2C426.5,259.1 448.6,256.1 462.4,254.9C476.3,253.7 488.3,253.2 502.1,252.7C515.8,252.2 541.1,251.9 548.5,251.7"/>
<path stroke="#b0a010" d="M300.3,281.2C301.1,280.8 302.6,279.8 305.3,278.8C308.1,277.8 312.7,276.3 317.6,274.8C322.5,273.4 330.1,271.3 336.0,269.7C341.8,268.1 351.4,265.8 354.3,265.0C357.6,264.8 368.5,264.0 374.9,263.5C381.3,263.0 387.8,262.4 394.3,261.9C400.9,261.4 404.7,261.3 415.6,260.2C426.5,259.1 448.6,256.6 462.4,254.9C476.3,253.3 488.3,251.5 502.1,250.1C515.8,248.6 541.1,246.6 548.5,245.9"/>
<line x1="460.6" y1="202.8" x2="463.6" y2="202.8" stroke="#b83a32" stroke-width="0.9"/>
<line x1="460.6" y1="204.4" x2="463.6" y2="204.4" stroke="#b83a32" stroke-width="0.9"/>
<line x1="460.6" y1="204.0" x2="463.6" y2="204.0" stroke="#b83a32" stroke-width="0.9"/>
<line x1="460.6" y1="254.9" x2="463.6" y2="254.9" stroke="#b83a32" stroke-width="0.9"/>
<line x1="460.6" y1="254.9" x2="463.6" y2="254.9" stroke="#b83a32" stroke-width="0.9"/>
<line x1="460.6" y1="254.9" x2="463.6" y2="254.9" stroke="#b83a32" stroke-width="0.9"/>
</g>
<line x1="354.5" y1="233.4" x2="354.5" y2="281.3" stroke="#858585" stroke-width="0.9"/>
<rect x="300.0" y="152.4" width="248.5" height="128.9" fill="none" stroke="#858585" stroke-width="1"/>
<g stroke="#666" stroke-width="0.8">
<line x1="300.3" y1="152.4" x2="300.3" y2="155.9"/>
<line x1="300.3" y1="281.3" x2="300.3" y2="277.8"/>
<line x1="318.3" y1="152.4" x2="318.3" y2="155.9"/>
<line x1="318.3" y1="281.3" x2="318.3" y2="277.8"/>
<line x1="336.3" y1="152.4" x2="336.3" y2="155.9"/>
<line x1="336.3" y1="281.3" x2="336.3" y2="277.8"/>
<line x1="354.3" y1="152.4" x2="354.3" y2="155.9"/>
<line x1="354.3" y1="281.3" x2="354.3" y2="277.8"/>
<line x1="372.4" y1="152.4" x2="372.4" y2="155.9"/>
<line x1="372.4" y1="281.3" x2="372.4" y2="277.8"/>
<line x1="390.4" y1="152.4" x2="390.4" y2="155.9"/>
<line x1="390.4" y1="281.3" x2="390.4" y2="277.8"/>
<line x1="408.4" y1="152.4" x2="408.4" y2="155.9"/>
<line x1="408.4" y1="281.3" x2="408.4" y2="277.8"/>
<line x1="426.4" y1="152.4" x2="426.4" y2="155.9"/>
<line x1="426.4" y1="281.3" x2="426.4" y2="277.8"/>
<line x1="444.4" y1="152.4" x2="444.4" y2="155.9"/>
<line x1="444.4" y1="281.3" x2="444.4" y2="277.8"/>
<line x1="462.4" y1="152.4" x2="462.4" y2="155.9"/>
<line x1="462.4" y1="281.3" x2="462.4" y2="277.8"/>
<line x1="480.5" y1="152.4" x2="480.5" y2="155.9"/>
<line x1="480.5" y1="281.3" x2="480.5" y2="277.8"/>
<line x1="498.5" y1="152.4" x2="498.5" y2="155.9"/>
<line x1="498.5" y1="281.3" x2="498.5" y2="277.8"/>
<line x1="516.5" y1="152.4" x2="516.5" y2="155.9"/>
<line x1="516.5" y1="281.3" x2="516.5" y2="277.8"/>
<line x1="534.5" y1="152.4" x2="534.5" y2="155.9"/>
<line x1="534.5" y1="281.3" x2="534.5" y2="277.8"/>
<line x1="299.5" y1="273.1" x2="303.5" y2="273.1"/>
<line x1="548.5" y1="273.1" x2="545.0" y2="273.1"/>
<line x1="299.5" y1="265.0" x2="303.5" y2="265.0"/>
<line x1="548.5" y1="265.0" x2="545.0" y2="265.0"/>
<line x1="299.5" y1="257.0" x2="303.5" y2="257.0"/>
<line x1="548.5" y1="257.0" x2="545.0" y2="257.0"/>
<line x1="299.5" y1="248.9" x2="303.5" y2="248.9"/>
<line x1="548.5" y1="248.9" x2="545.0" y2="248.9"/>
<line x1="299.5" y1="240.8" x2="303.5" y2="240.8"/>
<line x1="548.5" y1="240.8" x2="545.0" y2="240.8"/>
<line x1="299.5" y1="232.7" x2="303.5" y2="232.7"/>
<line x1="548.5" y1="232.7" x2="545.0" y2="232.7"/>
<line x1="299.5" y1="224.6" x2="303.5" y2="224.6"/>
<line x1="548.5" y1="224.6" x2="545.0" y2="224.6"/>
<line x1="299.5" y1="216.6" x2="303.5" y2="216.6"/>
<line x1="548.5" y1="216.6" x2="545.0" y2="216.6"/>
<line x1="299.5" y1="208.5" x2="303.5" y2="208.5"/>
<line x1="548.5" y1="208.5" x2="545.0" y2="208.5"/>
<line x1="299.5" y1="200.4" x2="303.5" y2="200.4"/>
<line x1="548.5" y1="200.4" x2="545.0" y2="200.4"/>
<line x1="299.5" y1="192.3" x2="303.5" y2="192.3"/>
<line x1="548.5" y1="192.3" x2="545.0" y2="192.3"/>
<line x1="299.5" y1="184.2" x2="303.5" y2="184.2"/>
<line x1="548.5" y1="184.2" x2="545.0" y2="184.2"/>
<line x1="299.5" y1="176.2" x2="303.5" y2="176.2"/>
<line x1="548.5" y1="176.2" x2="545.0" y2="176.2"/>
<line x1="299.5" y1="168.1" x2="303.5" y2="168.1"/>
<line x1="548.5" y1="168.1" x2="545.0" y2="168.1"/>
<line x1="299.5" y1="160.0" x2="303.5" y2="160.0"/>
<line x1="548.5" y1="160.0" x2="545.0" y2="160.0"/>
</g>
<g font-family="DejaVu Sans Condensed, Liberation Sans, sans-serif" font-size="7" fill="#222">
<text x="299.9" y="289.9" text-anchor="middle" font-size="6.6">0</text>
<text x="317.9" y="289.9" text-anchor="middle" font-size="6.6">50</text>
<text x="335.9" y="289.9" text-anchor="middle" font-size="6.6">100</text>
<text x="353.9" y="289.9" text-anchor="middle" font-size="6.6">150</text>
<text x="372.0" y="289.9" text-anchor="middle" font-size="6.6">200</text>
<text x="390.0" y="289.9" text-anchor="middle" font-size="6.6">250</text>
<text x="408.0" y="289.9" text-anchor="middle" font-size="6.6">300</text>
<text x="426.0" y="289.9" text-anchor="middle" font-size="6.6">350</text>
<text x="444.0" y="289.9" text-anchor="middle" font-size="6.6">400</text>
<text x="462.0" y="289.9" text-anchor="middle" font-size="6.6">450</text>
<text x="480.1" y="289.9" text-anchor="middle" font-size="6.6">500</text>
<text x="498.1" y="289.9" text-anchor="middle" font-size="6.6">550</text>
<text x="516.1" y="289.9" text-anchor="middle" font-size="6.6">600</text>
<text x="534.1" y="289.9" text-anchor="middle" font-size="6.6">650</text>
<text x="297.7" y="283.8" text-anchor="end">0</text>
<text x="297.7" y="275.7" text-anchor="end">0.2</text>
<text x="297.7" y="267.6" text-anchor="end">0.4</text>
<text x="297.7" y="259.5" text-anchor="end">0.6</text>
<text x="297.7" y="251.4" text-anchor="end">0.8</text>
<text x="297.7" y="243.3" text-anchor="end">1</text>
<text x="297.7" y="235.3" text-anchor="end">1.2</text>
<text x="297.7" y="227.2" text-anchor="end">1.4</text>
<text x="297.7" y="219.1" text-anchor="end">1.6</text>
<text x="297.7" y="211.0" text-anchor="end">1.8</text>
<text x="297.7" y="202.9" text-anchor="end">2</text>
<text x="297.7" y="194.9" text-anchor="end">2.2</text>
<text x="297.7" y="186.8" text-anchor="end">2.4</text>
<text x="297.7" y="178.7" text-anchor="end">2.6</text>
<text x="297.7" y="170.6" text-anchor="end">2.8</text>
<text x="297.7" y="162.6" text-anchor="end">3</text>
</g>
<text x="305.8" y="163.9" font-family="DejaVu Sans Condensed, Liberation Sans, sans-serif" font-size="7" fill="#222">[mm]</text>
<rect x="304" y="163.8" width="50.5" height="54" fill="#fff" fill-opacity="0.92" stroke="#ddd" stroke-width="0.6"/>
<g font-family="DejaVu Sans Condensed, Liberation Sans, sans-serif" font-size="7" fill="#222">
<rect x="306" y="167.4" width="6.8" height="4.2" fill="#0ad71e"/>
<text x="316.8" y="172.0">Point 1.dY</text>
<rect x="306" y="176.0" width="6.8" height="4.2" fill="#fa14eb"/>
<text x="316.8" y="180.6">Point 2.dY</text>
<rect x="306" y="184.5" width="6.8" height="4.2" fill="#5096fa"/>
<text x="316.8" y="189.1">Point 3.dY</text>
<rect x="306" y="193.1" width="6.8" height="4.2" fill="#aa960a"/>
<text x="316.8" y="197.7">Point 4.dY</text>
<rect x="306" y="201.6" width="6.8" height="4.2" fill="#0a14f0"/>
<text x="316.8" y="206.2">Point 5.dY</text>
<rect x="306" y="210.2" width="6.8" height="4.2" fill="#ffbe00"/>
<text x="316.8" y="214.8">Point 6.dY</text>
</g>
<text x="517.2" y="275.4" font-family="DejaVu Sans Condensed, Liberation Sans, sans-serif" font-size="7.2" fill="#222">Time [s]</text>
<g font-family="Liberation Serif, serif" font-size="11" font-weight="bold" fill="#111">
<text x="358.3" y="173.9">Y-direction deflection</text>
<text x="358.3" y="185.4" font-size="11.2">of points</text>
</g>
<g font-family="Liberation Serif, serif" font-size="11.2" fill="#111" stroke="#111" stroke-width="0.18">
<text x="368.2" y="71.4">Time of</text>
<text x="367.6" y="83.5">first cracking</text>
<text x="479.2" y="205.8">Time of</text>
<text x="479.2" y="218">contour plot of</text>
<text x="479.2" y="230.6">y-deflections</text>
</g>
<line x1="366.9" y1="76.9" x2="358.0" y2="90.3" stroke="#000" stroke-width="1.2"/>
<polygon points="354.4,95.6 354.9,88.2 361.0,92.3" fill="#000"/>
<line x1="476.8" y1="220.0" x2="466.4" y2="236.5" stroke="#000" stroke-width="1.2"/>
<polygon points="463.0,241.9 463.3,234.5 469.5,238.5" fill="#000"/>
</svg>
</body></html>
